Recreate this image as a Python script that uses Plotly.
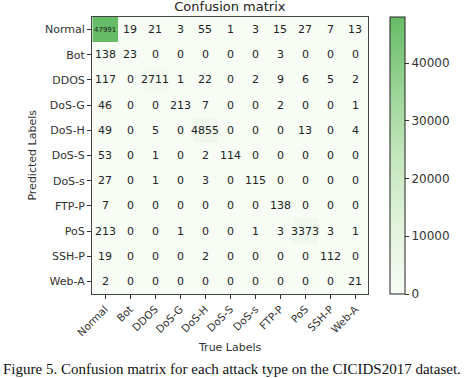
import plotly.graph_objects as go

labels = ["Normal", "Bot", "DDOS", "DoS-G", "DoS-H", "DoS-S", "DoS-s", "FTP-P", "PoS", "SSH-P", "Web-A"]

row_normal = [47991, 19, 21, 3, 55, 1, 3, 15, 27, 7, 13]
row_bot = [138, 23, 0, 0, 0, 0, 0, 3, 0, 0, 0]
row_ddos = [117, 0, 2711, 1, 22, 0, 2, 9, 6, 5, 2]
row_dosg = [46, 0, 0, 213, 7, 0, 0, 2, 0, 0, 1]
row_dosh = [49, 0, 5, 0, 4855, 0, 0, 0, 13, 0, 4]
row_doss_big = [53, 0, 1, 0, 2, 114, 0, 0, 0, 0, 0]
row_doss_small = [27, 0, 1, 0, 3, 0, 115, 0, 0, 0, 0]
row_ftpp = [7, 0, 0, 0, 0, 0, 0, 138, 0, 0, 0]
row_pos = [213, 0, 0, 1, 0, 0, 1, 3, 3373, 3, 1]
row_sshp = [19, 0, 0, 0, 2, 0, 0, 0, 0, 112, 0]
row_weba = [2, 0, 0, 0, 0, 0, 0, 0, 0, 0, 21]

z = [row_normal, row_bot, row_ddos, row_dosg, row_dosh, row_doss_big,
     row_doss_small, row_ftpp, row_pos, row_sshp, row_weba]

colorbar_ticks = [0, 10000, 20000, 30000, 40000]

colorscale = [[0, "#f7fcf5"], [0.25, "#e2f3dc"], [0.5, "#c3e6bc"],
              [0.75, "#98d394"], [1, "#66bb66"]]

fig = go.Figure(go.Heatmap(
    z=z, x=labels, y=labels, colorscale=colorscale, zmin=0, zmax=47991,
    showscale=True,
    colorbar=dict(
        x=1.08, xanchor="left", xpad=0, ypad=0, y=0.5, yanchor="middle",
        len=1, lenmode="fraction", thickness=15,
        outlinecolor="#222", outlinewidth=1,
        tickvals=colorbar_ticks, tickformat="d", ticks="outside", ticklen=4,
        tickcolor="#333", tickfont=dict(family="DejaVu Sans", size=12, color="#333"),
    ),
    hoverinfo="skip",
))

annotations = []
for i, row in enumerate(z):
    for j, v in enumerate(row):
        s = str(v)
        annotations.append(dict(
            x=labels[j], y=labels[i], text=s, showarrow=False, xref="x", yref="y",
            font=dict(family="DejaVu Sans", size=7 if len(s) >= 5 else 11, color="#222"),
        ))

annotations.append(dict(
    text="True Labels", xref="paper", yref="paper", x=0.5, y=-0.192,
    xanchor="center", yanchor="middle", showarrow=False,
    font=dict(family="DejaVu Sans", size=11, color="#333"),
))
annotations.append(dict(
    text="Predicted Labels", xref="paper", yref="paper", x=-0.217, y=0.5,
    xanchor="center", yanchor="middle", showarrow=False, textangle=-90,
    font=dict(family="DejaVu Sans", size=11, color="#333"),
))
annotations.append(dict(
    text="Figure 5. Confusion matrix for each attack type on the CICIDS2017 dataset.",
    xref="paper", yref="paper", x=-0.33, y=-0.235, xanchor="left", yanchor="top",
    showarrow=False, font=dict(family="Liberation Serif", size=15, color="#111"),
))

fig.update_layout(
    width=474, height=378,
    margin=dict(l=92, r=106, t=17, b=84, autoexpand=False),
    paper_bgcolor="white", plot_bgcolor="white",
    title=dict(text="Confusion matrix", x=0.485, xanchor="center", y=0.995, yanchor="top",
               pad=dict(t=0, b=0),
               font=dict(family="DejaVu Sans", size=13, color="#222")),
    annotations=annotations,
    font=dict(family="DejaVu Sans", color="#333"),
)
fig.update_xaxes(
    automargin=False,
    tickangle=-45, tickfont=dict(size=10.5, color="#333"),
    ticks="outside", ticklen=4, tickcolor="#333",
    showline=True, linecolor="#444", linewidth=1, mirror=True, showgrid=False,
)
fig.update_yaxes(
    automargin=False,
    autorange="reversed", tickfont=dict(size=11, color="#333"),
    ticks="outside", ticklen=4, tickcolor="#333",
    showline=True, linecolor="#444", linewidth=1, mirror=True, showgrid=False,
)

fig.write_html("out.html", config={"displayModeBar": False},
               post_script="document.body.style.margin='0';")
